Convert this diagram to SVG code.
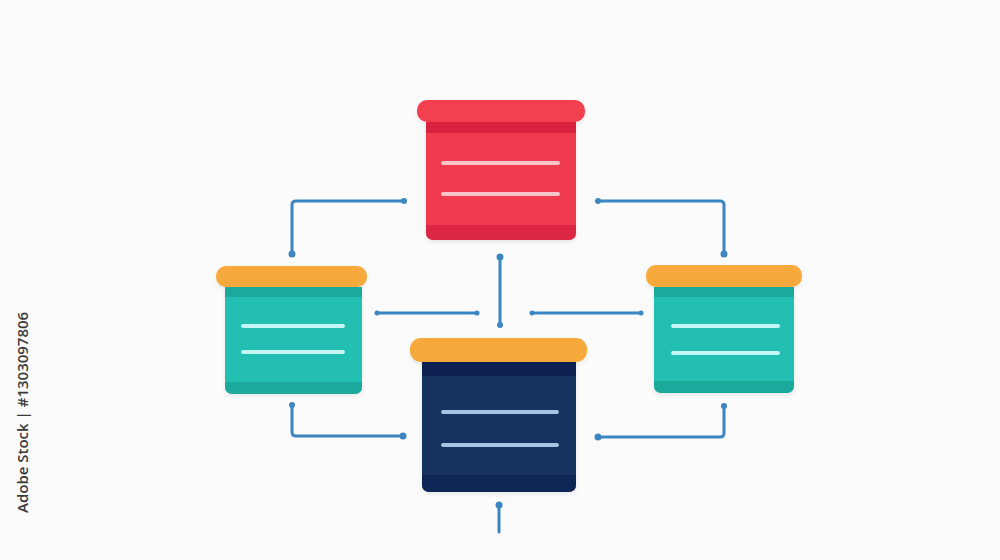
<svg xmlns="http://www.w3.org/2000/svg" width="1000" height="560" viewBox="0 0 1000 560">
  <defs>
    <style>
      .conn { fill: none; stroke: #3b86c0; stroke-width: 3; stroke-linecap: round; stroke-linejoin: round; }
      .dot { fill: #3b86c0; }
      .bar { stroke-width: 4; stroke-linecap: round; }
      .wm { font-family: "Open Sans", "Liberation Sans", sans-serif; font-size: 15px; font-weight: 600; fill: #3a3a3a; }
    </style>
    <filter id="sh" x="-10%" y="-10%" width="120%" height="130%">
      <feDropShadow dx="0" dy="2" stdDeviation="2" flood-color="#000" flood-opacity="0.08"/>
    </filter>
  </defs>
  <rect width="1000" height="560" fill="#fbfbfb"/>

  <g id="connectors">
    <!-- top-left -->
    <path class="conn" d="M404,201 H296 Q292,201 292,205 V254"/>
    <circle class="dot" cx="404" cy="201" r="3"/>
    <circle class="dot" cx="292" cy="254" r="3.5"/>
    <!-- top-right -->
    <path class="conn" d="M598,201 H720 Q724,201 724,205 V254"/>
    <circle class="dot" cx="598" cy="201" r="3"/>
    <circle class="dot" cx="724" cy="254" r="3.5"/>
    <!-- bottom-left -->
    <path class="conn" d="M292,405 V432 Q292,436 296,436 H403"/>
    <circle class="dot" cx="292" cy="405" r="3"/>
    <circle class="dot" cx="403" cy="436" r="3.5"/>
    <!-- bottom-right -->
    <path class="conn" d="M598,437 H720 Q724,437 724,433 V406"/>
    <circle class="dot" cx="598" cy="437" r="3.5"/>
    <circle class="dot" cx="724" cy="406" r="3"/>
    <!-- middle -->
    <path class="conn" d="M377,313 H477"/>
    <circle class="dot" cx="377" cy="313" r="2.5"/>
    <circle class="dot" cx="477" cy="313" r="2.5"/>
    <path class="conn" d="M500,257 V325"/>
    <circle class="dot" cx="500" cy="257" r="3.5"/>
    <circle class="dot" cx="500" cy="325" r="3"/>
    <path class="conn" d="M532,313 H641"/>
    <circle class="dot" cx="532" cy="313" r="2.5"/>
    <circle class="dot" cx="641" cy="313" r="2.5"/>
    <!-- bottom -->
    <path class="conn" d="M499,505 V532"/>
    <circle class="dot" cx="499" cy="505" r="3.5"/>
  </g>

  <g id="node-top" filter="url(#sh)">
    <path d="M426,122 H576 V232 Q576,240 568,240 H434 Q426,240 426,232 Z" fill="#f03b4f"/>
    <rect x="426" y="122" width="150" height="11" fill="#d8213f"/>
    <path d="M426,225 H576 V232 Q576,240 568,240 H434 Q426,240 426,232 Z" fill="#dc2744"/>
    <rect x="417" y="100" width="168" height="22" rx="10" fill="#f2404f"/>
    <line class="bar" x1="443" y1="163" x2="558" y2="163" stroke="#f8c3c9"/>
    <line class="bar" x1="443" y1="194" x2="558" y2="194" stroke="#f8c3c9"/>
  </g>

  <g id="node-left" filter="url(#sh)">
    <path d="M225,287 H362 V386 Q362,394 354,394 H233 Q225,394 225,386 Z" fill="#22bfb2"/>
    <rect x="225" y="287" width="137" height="10" fill="#1ba99c"/>
    <path d="M225,382 H362 V386 Q362,394 354,394 H233 Q225,394 225,386 Z" fill="#1ba99c"/>
    <rect x="216" y="266" width="151" height="21" rx="10" fill="#f7aa3a"/>
    <line class="bar" x1="243" y1="326" x2="343" y2="326" stroke="#c4f6f6"/>
    <line class="bar" x1="243" y1="352" x2="343" y2="352" stroke="#c4f6f6"/>
  </g>

  <g id="node-right" filter="url(#sh)">
    <path d="M654,287 H794 V385 Q794,393 786,393 H662 Q654,393 654,385 Z" fill="#22bfb2"/>
    <rect x="654" y="287" width="140" height="10" fill="#1ba99c"/>
    <path d="M654,381 H794 V385 Q794,393 786,393 H662 Q654,393 654,385 Z" fill="#1ba99c"/>
    <rect x="646" y="265" width="156" height="22" rx="10" fill="#f7aa3a"/>
    <line class="bar" x1="673" y1="326" x2="778" y2="326" stroke="#c4f6f6"/>
    <line class="bar" x1="673" y1="353" x2="778" y2="353" stroke="#c4f6f6"/>
  </g>

  <g id="node-bottom" filter="url(#sh)">
    <path d="M422,362 H576 V484 Q576,492 568,492 H430 Q422,492 422,484 Z" fill="#15305f"/>
    <rect x="422" y="362" width="154" height="14" fill="#0d2352"/>
    <path d="M422,475 H576 V484 Q576,492 568,492 H430 Q422,492 422,484 Z" fill="#0f2756"/>
    <rect x="410" y="338" width="177" height="24" rx="11" fill="#f7aa3a"/>
    <line class="bar" x1="443" y1="412" x2="557" y2="412" stroke="#a9c3e4"/>
    <line class="bar" x1="443" y1="445" x2="557" y2="445" stroke="#a9c3e4"/>
  </g>

  <text class="wm" x="0" y="0" transform="translate(28,513) rotate(-90)">Adobe Stock | #1303097806</text>
</svg>
